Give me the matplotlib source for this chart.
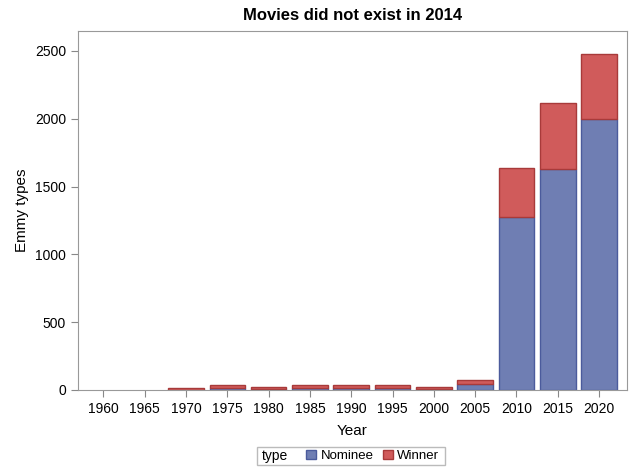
import matplotlib
matplotlib.use("Agg")
import matplotlib.pyplot as plt
from matplotlib.patches import Rectangle
import numpy as np

plt.rcParams['font.family'] = ['Liberation Sans', 'DejaVu Sans']

# data
years = ['1960', '1965', '1970', '1975', '1980', '1985', '1990',
         '1995', '2000', '2005', '2010', '2015', '2020']
nominee = [0, 0, 2, 17, 7, 17, 17, 17, 7, 46, 1277, 1626, 1995]
winner = [0, 0, 13, 18, 15, 18, 18, 18, 15, 25, 357, 487, 481]

W, H = 637, 472
fig = plt.figure(figsize=(W / 100, H / 100), dpi=100)
ax = fig.add_axes([0.122, 0.174, 0.862, 0.76])

x = np.arange(len(years))
nom = np.array(nominee, dtype=float)
win = np.array(winner, dtype=float)
# years without any entries get no bar at all
has = (nom + win) > 0
ax.bar(x[has], nom[has], width=0.86, color='#6F7EB3', edgecolor='#4B5B9C', linewidth=1,
       label='Nominee')
ax.bar(x[has], win[has], width=0.86, bottom=nom[has], color='#D05B5B', edgecolor='#A83A3A',
       linewidth=1, label='Winner')

ax.set_xlim(-0.62, 12.67)
ax.set_ylim(0, 2646)
ax.set_xticks(x)
ax.set_xticklabels(years)
ax.set_yticks([0, 500, 1000, 1500, 2000, 2500])
ax.tick_params(labelsize=10, color='#888888', length=5)
for s in ax.spines.values():
    s.set_color('#999999')

ax.set_xlabel('Year', fontsize=11, labelpad=6)
ax.set_ylabel('Emmy types', fontsize=11, labelpad=4)
ax.set_title('Movies did not exist in 2014', fontsize=12, fontweight='bold', pad=8)

# legend: "type" caption inline, inside one thin box
fig.patches.append(Rectangle((257 / W, 1 - 465 / H), 188 / W, 18 / H, transform=fig.transFigure,
                             fill=False, edgecolor='#bbbbbb', linewidth=1))
fig.text(262 / W, 1 - 456 / H, 'type', fontsize=10, va='center', ha='left')
h, l = ax.get_legend_handles_labels()
fig.legend(h, l, loc='center left', bbox_to_anchor=(306 / W, 1 - 456 / H),
           ncol=2, fontsize=9.5, frameon=False,
           handlelength=0.75, handleheight=0.75, handletextpad=0.35,
           columnspacing=0.7, borderpad=0, borderaxespad=0)

fig.savefig('out.png', dpi=100)
